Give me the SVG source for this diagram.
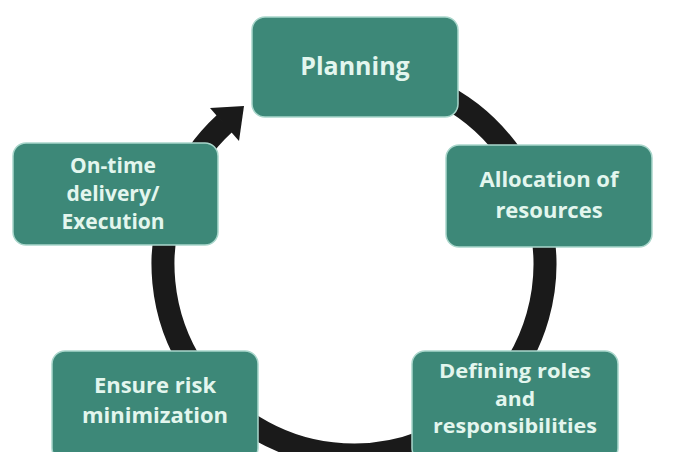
<svg xmlns="http://www.w3.org/2000/svg" width="680" height="452" viewBox="0 0 680 452">
<style>
.box{fill:#3d8878;stroke:#a9d6cb;stroke-width:1.5}
.lbl{font-family:"Open Sans","Liberation Sans",sans-serif;font-weight:bold;fill:#e3f6ee;text-anchor:middle}
.ring{fill:none;stroke:#1a1a1a;stroke-width:23}
</style>
<rect width="680" height="452" fill="#ffffff"/>
<g id="connectors">
<path class="ring" d="M 354 73 A 191 191 0 1 1 224.7 123.4"/>
<polygon points="244,106 210,108 239,141" fill="#1a1a1a"/>
</g>
<g id="planning">
<rect class="box" x="252" y="17" width="206" height="100" rx="13"/>
<text class="lbl" x="355" y="75" font-size="25">Planning</text>
</g>
<g id="allocation">
<rect class="box" x="446" y="145" width="206" height="102" rx="13"/>
<text class="lbl" x="549" y="187" font-size="22">Allocation of</text>
<text class="lbl" x="549" y="218" font-size="22">resources</text>
</g>
<g id="defining">
<rect class="box" x="412" y="351" width="206" height="110" rx="13"/>
<text class="lbl" x="515" y="378" font-size="20" textLength="152" lengthAdjust="spacingAndGlyphs">Defining roles</text>
<text class="lbl" x="515" y="405.5" font-size="20" textLength="40" lengthAdjust="spacingAndGlyphs">and</text>
<text class="lbl" x="515" y="433" font-size="20" textLength="164" lengthAdjust="spacingAndGlyphs">responsibilities</text>
</g>
<g id="ensure">
<rect class="box" x="52" y="351" width="206" height="110" rx="13"/>
<text class="lbl" x="155" y="393" font-size="22">Ensure risk</text>
<text class="lbl" x="155" y="423" font-size="22">minimization</text>
</g>
<g id="ontime">
<rect class="box" x="13" y="143" width="205" height="102" rx="13"/>
<text class="lbl" x="113" y="173" font-size="21">On-time</text>
<text class="lbl" x="113" y="201" font-size="21">delivery/</text>
<text class="lbl" x="113" y="229" font-size="21">Execution</text>
</g>
</svg>
